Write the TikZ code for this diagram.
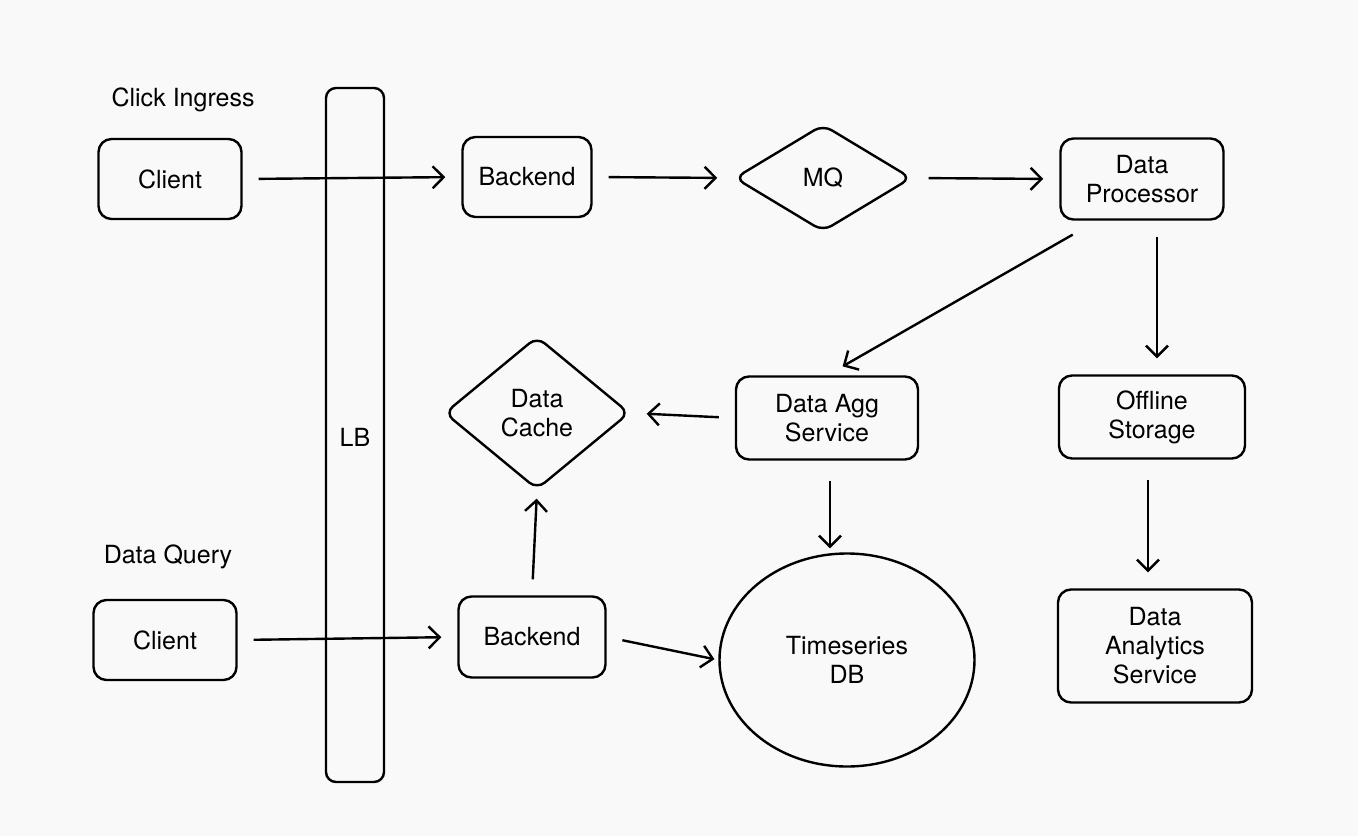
\documentclass[tikz,border=0pt]{standalone}
\usepackage{fontspec}
\setmainfont{TeX Gyre Heros}
\usetikzlibrary{arrows.meta,shapes.geometric}
\begin{document}
\begin{tikzpicture}[x=1pt,y=-1pt,
  every node/.style={font=\fontsize{25}{29}\selectfont, align=center},
  box/.style={draw, line width=2.4pt, rounded corners=13pt, inner sep=0pt},
  dia/.style={draw, line width=2.4pt, diamond, rounded corners=10pt, inner sep=0pt},
  arr/.style={line width=2.4pt, -{Straight Barb[length=11pt,width=22pt,line width=2.4pt]}, shorten <=16pt, shorten >=16pt}]
\fill[fill={rgb,255:red,249;green,249;blue,249}] (0,0) rectangle (1358,836);
\useasboundingbox (0,0) rectangle (1358,836);
\node (t1) at (183,100) {Click Ingress};
\node (t2) at (168,557) {Data Query};
\node[box, minimum width=143pt, minimum height=80pt] (c1) at (170,179) {Client};
\node[box, minimum width=143pt, minimum height=80pt] (c2) at (165,640) {Client};
\node[box, rounded corners=10pt, minimum width=58pt, minimum height=694pt] (lb) at (355,435) {};
\node (lbt) at (355,437) {LB};
\node[box, minimum width=129pt, minimum height=80pt] (b1) at (527,177) {Backend};
\node[box, minimum width=147pt, minimum height=81pt] (b2) at (532,637) {Backend};
\node[dia, minimum width=177pt, minimum height=107pt] (mq) at (823,178) {MQ};
\node[box, minimum width=163pt, minimum height=81pt] (dp) at (1142,179) {Data\\Processor};
\node[box, minimum width=182pt, minimum height=83pt] (agg) at (827,418) {Data Agg\\Service};
\node[box, minimum width=186pt, minimum height=83pt] (off) at (1152,417) {Offline\\Storage};
\node[dia, minimum width=185pt, minimum height=153pt] (cache) at (537,413) {Data\\Cache};
\node[draw, line width=2.4pt, ellipse, minimum width=255pt, minimum height=213pt] (db) at (847,660) {Timeseries\\DB};
\node[box, minimum width=194pt, minimum height=113pt] (da) at (1155,646) {Data\\Analytics\\Service};
\draw[arr] (c1.east) -- (b1.west);
\draw[arr] (b1.east) -- (mq.west);
\draw[arr] (mq.east) -- (dp.west);
\draw[arr, shorten <=28pt, shorten >=18pt] (dp.south) ++(-45,0) coordinate (dps) -- (agg.north) ;
\draw[arr] ([xshift=15pt]dp.south) -- ([xshift=5pt]off.north);
\draw[arr] (agg.west) -- (cache.east);
\draw[arr, shorten <=20pt, shorten >=4pt] ([xshift=3pt]agg.south) -- ([xshift=-17pt]db.north);
\draw[arr, shorten <=20pt] ([xshift=-4pt]off.south) -- ([xshift=-7pt]da.north);
\draw[arr] (c2.east) -- (b2.west);
\draw[arr, shorten >=8pt] (b2.north) -- (cache.south);
\draw[arr, shorten >=4pt] (b2.east) -- (db.west);
\end{tikzpicture}
\end{document}
